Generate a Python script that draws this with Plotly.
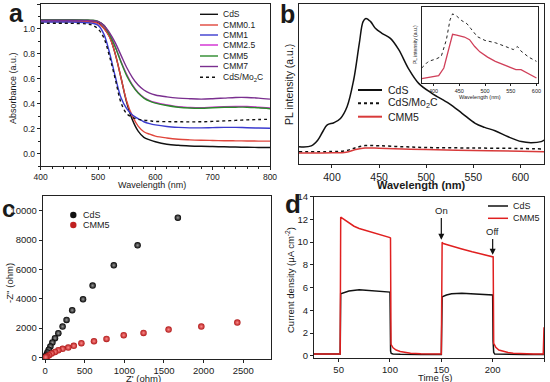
import plotly.graph_objects as go

# ---------------- Panel a: UV-vis absorbance ----------------
wl_a = [400, 450, 480, 490, 500, 510, 520, 530, 540, 550, 560, 570, 580, 590, 600, 620, 640, 660, 680, 700, 720, 740, 760, 780, 800]
abs_cds   = [1.067, 1.067, 1.065, 1.06, 1.05, 1.01, 0.94, 0.80, 0.61, 0.41, 0.27, 0.18, 0.13, 0.11, 0.095, 0.075, 0.066, 0.061, 0.058, 0.056, 0.054, 0.052, 0.050, 0.049, 0.048]
abs_cmm01 = [1.06, 1.06, 1.058, 1.055, 1.045, 1.005, 0.935, 0.80, 0.61, 0.42, 0.30, 0.22, 0.175, 0.155, 0.14, 0.125, 0.115, 0.11, 0.107, 0.105, 0.103, 0.102, 0.101, 0.10, 0.10]
abs_cmm1  = [1.055, 1.055, 1.05, 1.045, 1.03, 0.96, 0.81, 0.62, 0.45, 0.36, 0.31, 0.28, 0.255, 0.24, 0.23, 0.217, 0.21, 0.206, 0.206, 0.208, 0.21, 0.21, 0.207, 0.205, 0.203]
abs_cmm25 = [1.072, 1.072, 1.07, 1.068, 1.06, 1.03, 0.96, 0.86, 0.74, 0.635, 0.55, 0.49, 0.45, 0.425, 0.41, 0.39, 0.375, 0.37, 0.368, 0.372, 0.375, 0.377, 0.378, 0.372, 0.365]
abs_cmm5  = [1.075, 1.075, 1.073, 1.07, 1.06, 1.03, 0.955, 0.855, 0.735, 0.625, 0.545, 0.485, 0.445, 0.42, 0.405, 0.385, 0.372, 0.365, 0.363, 0.368, 0.371, 0.372, 0.372, 0.367, 0.36]
abs_cmm7  = [1.07, 1.07, 1.068, 1.065, 1.058, 1.03, 0.97, 0.89, 0.79, 0.69, 0.61, 0.55, 0.51, 0.485, 0.47, 0.455, 0.445, 0.44, 0.437, 0.44, 0.445, 0.45, 0.45, 0.445, 0.437]
abs_mo2c  = [1.045, 1.045, 1.04, 1.03, 1.0, 0.93, 0.78, 0.60, 0.41, 0.32, 0.29, 0.275, 0.268, 0.263, 0.258, 0.256, 0.255, 0.254, 0.255, 0.258, 0.262, 0.266, 0.27, 0.273, 0.275]

# ---------------- Panel b: PL spectra ----------------
wl_b = [365, 378, 385, 390, 395, 402, 409, 416, 423, 429, 433, 436, 441, 446, 453, 462, 471, 481, 492, 506, 524, 538, 552, 562, 573, 587, 601, 611, 622, 625]
pl_cds = [10.8, 11.3, 15, 20, 24.4, 25.8, 28.5, 35.8, 52.5, 75.4, 89, 91, 89, 84.8, 81.7, 78.5, 71.3, 59.8, 50.4, 44.2, 37.9, 31.7, 25.4, 22.9, 20.8, 17, 14, 13.3, 14, 15]
wl_b2 = [365, 400, 415, 425, 435, 450, 475, 500, 550, 600, 625]
pl_mo2c = [7.7, 7.8, 8.3, 10.2, 11.5, 11.4, 10.8, 10.3, 10.0, 9.7, 9.4]
pl_cmm5 = [6.9, 7.0, 7.4, 9.0, 10.0, 9.9, 9.4, 9.0, 8.5, 8.0, 7.7]

# inset (zoomed PL)
wl_in_d = [377, 390, 405, 415, 425, 432, 437, 445, 455, 465, 472, 485, 500, 520, 540, 555, 563, 570, 585, 600]
in_mo2c = [19.7, 28.5, 31.6, 35, 57, 83, 91, 88, 82, 78, 72, 61, 56, 53, 48, 44, 48, 42, 34, 28.5]
wl_in_r = [377, 395, 410, 420, 430, 437, 445, 460, 470, 480, 490, 505, 520, 540, 560, 570, 585, 600]
in_cmm5 = [5.7, 7.9, 9.6, 19.7, 48, 64, 63, 60.5, 57, 48, 41, 34, 28.5, 23, 17.5, 17.5, 12, 6.6]

# ---------------- Panel c: Nyquist plots ----------------
zre_cds = [1675, 1167, 867, 600, 479, 342, 271, 221, 167, 125, 92, 67, 46, 29, 17, 8]
zim_cds = [9524, 7642, 6281, 4898, 3968, 3220, 2562, 2109, 1655, 1315, 1020, 748, 522, 340, 181, 68]
zre_cmm = [2425, 1971, 1558, 1242, 992, 775, 617, 458, 362, 292, 221, 167, 125, 83, 50, 25, 8]
zim_cmm = [2381, 2109, 1905, 1678, 1519, 1270, 1111, 975, 794, 680, 590, 499, 385, 272, 159, 68, 23]

# ---------------- Panel d: transient photocurrent ----------------
t_cds = [26, 51.5, 52, 55, 60, 70, 80, 90, 100, 100.6, 101.2, 103, 110, 130, 150, 150.8, 151.3, 155, 160, 170, 185, 200, 200.4, 201, 202, 210, 230, 250]
j_cds = [0.15, 0.15, 5.45, 5.55, 5.7, 5.8, 5.75, 5.7, 5.6, 0.4, 0.2, 0.15, 0.12, 0.1, 0.1, 5.15, 5.2, 5.35, 5.45, 5.5, 5.45, 5.35, 1.3, 0.3, 0.15, 0.12, 0.1, 0.1]
t_cmm = [26, 51.5, 52, 55, 60, 65, 70, 80, 90, 100, 100.5, 101, 103, 106, 110, 115, 120, 130, 140, 150, 150.8, 151.3, 155, 160, 170, 180, 190, 200, 200.5, 201, 203, 206, 210, 215, 220, 230, 240, 249.3, 250]
j_cmm = [0.15, 0.15, 12.2, 12.0, 11.7, 11.4, 11.2, 10.95, 10.7, 10.4, 10.35, 1.0, 0.7, 0.5, 0.38, 0.28, 0.22, 0.17, 0.15, 0.15, 10.0, 9.9, 9.8, 9.65, 9.4, 9.15, 8.95, 8.75, 8.7, 1.1, 0.75, 0.5, 0.38, 0.28, 0.22, 0.17, 0.15, 0.15, 2.5]

W, H = 550, 382
FONT = "Liberation Sans, Arial, sans-serif"
TXT = "#1a1a1a"

def px(x):
    return x / W

def py(y):
    return 1 - y / H

col_a = {"CdS": "#111111", "CMM0.1": "#e0463c", "CMM1": "#3b3bcf", "CMM2.5": "#d22ad2",
         "CMM5": "#2b8a2b", "CMM7": "#7a2f8f"}

fig = go.Figure()

# panel a traces
for name, vals in [("CdS", abs_cds), ("CMM0.1", abs_cmm01), ("CMM1", abs_cmm1),
                   ("CMM2.5", abs_cmm25), ("CMM5", abs_cmm5), ("CMM7", abs_cmm7)]:
    fig.add_trace(go.Scatter(x=wl_a, y=vals, mode="lines", line=dict(color=col_a[name], width=1.4, shape="spline"),
                             xaxis="x", yaxis="y", showlegend=False))
fig.add_trace(go.Scatter(x=wl_a, y=abs_mo2c, mode="lines", line=dict(color="#111111", width=1.4, dash="dot", shape="spline"),
                         xaxis="x", yaxis="y", showlegend=False))

# panel b traces
fig.add_trace(go.Scatter(x=wl_b, y=pl_cds, mode="lines", line=dict(color="#111111", width=1.5, shape="spline"),
                         xaxis="x2", yaxis="y2", showlegend=False))
fig.add_trace(go.Scatter(x=wl_b2, y=pl_mo2c, mode="lines", line=dict(color="#111111", width=1.5, dash="dot", shape="spline"),
                         xaxis="x2", yaxis="y2", showlegend=False))
fig.add_trace(go.Scatter(x=wl_b2, y=pl_cmm5, mode="lines", line=dict(color="#d83a3a", width=1.5, shape="spline"),
                         xaxis="x2", yaxis="y2", showlegend=False))
# inset
fig.add_trace(go.Scatter(x=wl_in_d, y=in_mo2c, mode="lines", line=dict(color="#222222", width=1, dash="dot"),
                         xaxis="x5", yaxis="y5", showlegend=False))
fig.add_trace(go.Scatter(x=wl_in_r, y=in_cmm5, mode="lines", line=dict(color="#d0405a", width=1.3),
                         xaxis="x5", yaxis="y5", showlegend=False))

# panel c traces
fig.add_trace(go.Scatter(x=zre_cds, y=zim_cds, mode="markers",
                         marker=dict(size=6.5, color="#000000", line=dict(width=0),
                                     gradient=dict(type="radial", color="#9a9a9a")),
                         xaxis="x3", yaxis="y3", showlegend=False))
fig.add_trace(go.Scatter(x=zre_cmm, y=zim_cmm, mode="markers",
                         marker=dict(size=6.5, color="#b01818", line=dict(width=0),
                                     gradient=dict(type="radial", color="#ff8a8a")),
                         xaxis="x3", yaxis="y3", showlegend=False))

# panel d traces
fig.add_trace(go.Scatter(x=t_cds, y=j_cds, mode="lines", line=dict(color="#111111", width=1.5),
                         xaxis="x4", yaxis="y4", showlegend=False))
fig.add_trace(go.Scatter(x=t_cmm, y=j_cmm, mode="lines", line=dict(color="#e02020", width=1.5),
                         xaxis="x4", yaxis="y4", showlegend=False))

def axis(domain, rng, dtick=None, tickvals=None, size=9, showlabels=True, anchor=None, fmt=None, minor=False, ticklen=3):
    d = dict(domain=domain, range=rng, showline=True, linecolor="#222222", linewidth=1, mirror=True,
             ticks="outside", ticklen=ticklen, tickcolor="#222222", showgrid=False, zeroline=False, automargin=False,
             tickfont=dict(family=FONT, size=size, color=TXT), showticklabels=showlabels, anchor=anchor)
    if dtick is not None:
        d["dtick"] = dtick
    if tickvals is not None:
        d["tickvals"] = tickvals
    if fmt:
        d["tickformat"] = fmt
    if minor:
        d["minor"] = dict(ticks="outside", ticklen=2, tickcolor="#222222")
    return d

fig.update_layout(
    template="none",
    width=W, height=H, margin=dict(l=0, r=0, t=0, b=0, pad=0),
    paper_bgcolor="white", plot_bgcolor="white",
    font=dict(family=FONT, color=TXT),
    xaxis=axis([px(40.7), px(270)], [400, 800], dtick=100, size=8.5, anchor="y", minor=True),
    yaxis=axis([py(166), py(4)], [-0.1, 1.2], tickvals=[0, 0.2, 0.4, 0.6, 0.8, 1.0, 1.2], size=8.5, anchor="x", fmt=".1f", minor=True),
    xaxis2=axis([px(299), px(544)], [365, 625], dtick=50, size=10.5, anchor="y2"),
    yaxis2=axis([py(164), py(4)], [0, 100], size=9, showlabels=False, anchor="x2"),
    xaxis5=axis([px(421.7), px(538)], [377, 603], tickvals=[400, 450, 500, 550, 600], size=5.5, anchor="y5", ticklen=2),
    yaxis5=axis([py(83), py(7)], [0, 100], size=5, showlabels=False, anchor="x5"),
    xaxis3=axis([px(42.7), px(271)], [-30, 2850], dtick=500, size=9.5, anchor="y3", fmt="d"),
    yaxis3=axis([py(359), py(196)], [-100, 11000], dtick=2000, size=9.5, anchor="x3", fmt="d"),
    xaxis4=axis([px(314), px(544)], [26, 250], dtick=50, size=9.5, anchor="y4"),
    yaxis4=axis([py(358), py(196.7)], [-0.2, 14], dtick=2, size=9.5, anchor="x4"),
)
fig.layout.yaxis5.ticks = ""
fig.layout.yaxis2.ticks = ""

shapes = []
annotations = []

def text(x, y, s, size=9, anchor="center", angle=0, bold=False):
    annotations.append(dict(x=px(x), y=py(y), xref="paper", yref="paper", text=("<b>%s</b>" % s) if bold else s,
                            showarrow=False, xanchor=anchor, yanchor="middle", textangle=angle,
                            font=dict(family=FONT, size=size, color=TXT)))

def leg_line(x0, x1, y, color, dash="solid", width=1.5):
    shapes.append(dict(type="line", xref="paper", yref="paper", x0=px(x0), x1=px(x1), y0=py(y), y1=py(y),
                       line=dict(color=color, width=width, dash=dash)))

def leg_dot(x, y, color, r=3.2):
    shapes.append(dict(type="circle", xref="paper", yref="paper", x0=px(x - r), x1=px(x + r), y0=py(y + r), y1=py(y - r),
                       fillcolor=color, line=dict(width=0)))

# panel letters
text(16, 13, "a", size=25, bold=True)
text(287, 14, "b", size=25, bold=True)
text(8, 208, "c", size=24, bold=True)
text(293, 204, "d", size=26, bold=True)

# axis titles
text(152, 185, "Wavelength (nm)", size=9)
text(13, 88, "Absorbance (a.u.)", size=9, angle=-90)
text(422, 185, "<b>Wavelength (nm)</b>", size=11)
text(289, 85, "PL intensity (a.u.)", size=10.5, angle=-90)
text(480, 97.5, "Wavelength (nm)", size=5.5)
text(415, 45, "PL intensity (a.u.)", size=5, angle=-90)
text(143, 378, "Z' (ohm)", size=9.5)
text(9, 283, "-Z'' (ohm)", size=9.5, angle=-90)
text(435, 377.5, "Time (s)", size=9.5)
text(290, 280, "Current density (μA cm<sup>-2</sup>)", size=9.5, angle=-90)

# legend a
leg_items_a = [("CdS", col_a["CdS"], "solid", 14.3), ("CMM0.1", col_a["CMM0.1"], "solid", 25),
               ("CMM1", col_a["CMM1"], "solid", 35), ("CMM2.5", col_a["CMM2.5"], "solid", 45),
               ("CMM5", col_a["CMM5"], "solid", 56), ("CMM7", col_a["CMM7"], "solid", 66.5),
               ("CdS/Mo<sub>2</sub>C", "#111111", "dot", 77.3)]
for lab, c, dsh, yy in leg_items_a:
    leg_line(200, 218, yy, c, dsh, 1.4)
    text(221, yy, lab, size=8.5, anchor="left")

# legend b
for lab, c, dsh, yy in [("CdS", "#111111", "solid", 90), ("CdS/Mo<sub>2</sub>C", "#111111", "dot", 103.3),
                        ("CMM5", "#d83a3a", "solid", 116.7)]:
    leg_line(358, 382, yy, c, dsh, 2)
    text(386, yy, lab, size=10.5, anchor="left")

# legend c
leg_dot(73.3, 215, "#111111")
text(81, 215, "CdS", size=9, anchor="left")
leg_dot(73.3, 225, "#c02020")
text(81, 225, "CMM5", size=9, anchor="left")

# legend d
leg_line(488, 508, 206, "#111111", "solid", 1.5)
text(511, 206, "CdS", size=9, anchor="left")
leg_line(488, 508, 218.3, "#e02020", "solid", 1.5)
text(511, 218.3, "CMM5", size=9, anchor="left")

# On / Off arrows in panel d
annotations.append(dict(x=150, y=10.2, xref="x4", yref="y4", ax=150, ay=12.75, axref="x4", ayref="y4",
                        text="On", showarrow=True, arrowhead=2, arrowsize=1, arrowwidth=1.2, arrowcolor="#111111",
                        font=dict(family=FONT, size=9.5, color=TXT)))
annotations.append(dict(x=200, y=8.9, xref="x4", yref="y4", ax=200, ay=10.9, axref="x4", ayref="y4",
                        text="Off", showarrow=True, arrowhead=2, arrowsize=1, arrowwidth=1.2, arrowcolor="#111111",
                        font=dict(family=FONT, size=9.5, color=TXT)))

fig.update_layout(shapes=shapes, annotations=annotations)
fig.write_html("out.html", config={"displayModeBar": False},
               post_script="document.body.style.margin='0';document.body.style.overflow='hidden';")
